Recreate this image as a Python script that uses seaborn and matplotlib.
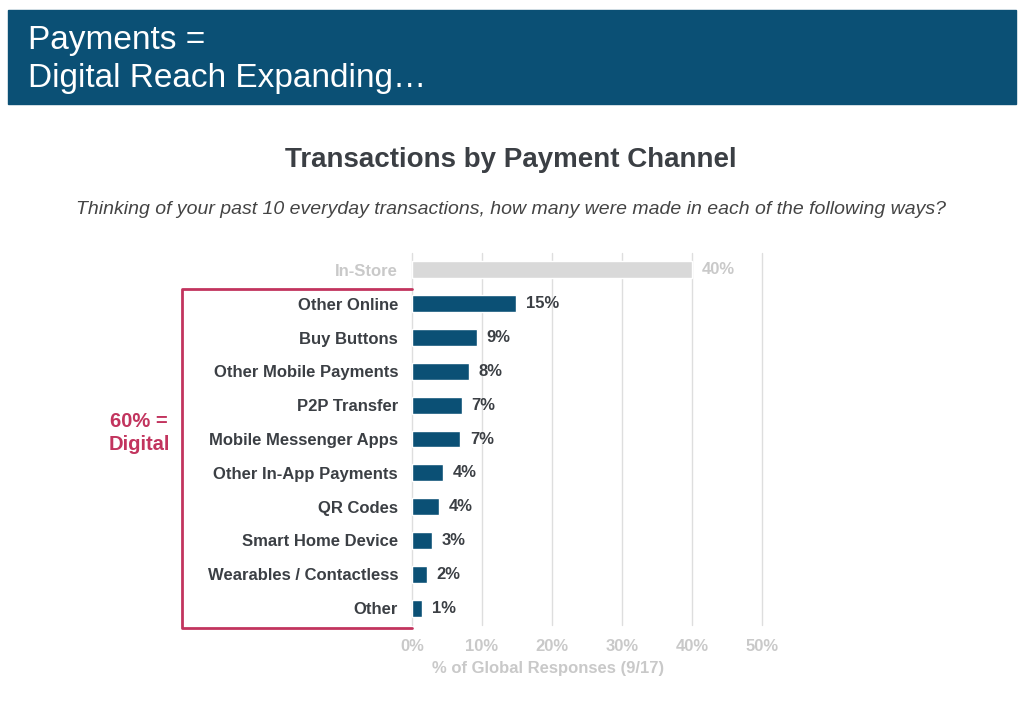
import matplotlib
matplotlib.use("Agg")
import matplotlib.pyplot as plt
import seaborn as sns
import pandas as pd
from matplotlib.lines import Line2D
from matplotlib.patches import Rectangle

## Data
channels = ["In-Store", "Other Online", "Buy Buttons", "Other Mobile Payments",
            "P2P Transfer", "Mobile Messenger Apps", "Other In-App Payments",
            "QR Codes", "Smart Home Device", "Wearables / Contactless", "Other"]
shares = [40.0, 14.9, 9.3, 8.1, 7.1, 6.9, 4.4, 3.9, 2.9, 2.1, 1.4]
groups = ["Physical"] + ["Digital"] * 10
x_ticks = [0, 10, 20, 30, 40, 50]

df = pd.DataFrame({"channel": channels, "share": shares, "group": groups})

navy = "#0b5075"
dark = "#3b3f44"
light = "#c9c9c9"
pink = "#c2345e"

sns.set_theme(style="white")
plt.rcParams["font.family"] = ["Liberation Sans", "DejaVu Sans"]

fig = plt.figure(figsize=(10.24, 7.04), dpi=100)
W, H = 1024, 704

## Header banner
fig.add_artist(Rectangle((8 / W, 1 - 104 / H), 1008 / W, 94 / H,
                         transform=fig.transFigure, color=navy, zorder=0))
fig.text(28 / W, 1 - 40 / H, "Payments =", color="white", fontsize=24, va="center")
fig.text(28 / W, 1 - 78 / H, "Digital Reach Expanding\u2026", color="white",
         fontsize=24, va="center")

## Titles
fig.text(511 / W, 1 - 160 / H, "Transactions by Payment Channel", color=dark,
         fontsize=20, fontweight="bold", ha="center", va="center")
fig.text(511 / W, 1 - 210 / H,
         "Thinking of your past 10 everyday transactions, how many were made in each of the following ways?",
         color="#444444", fontsize=14, style="italic", ha="center", va="center")

## Bar chart
ax = fig.add_axes([412 / W, 79 / H, 350 / W, 372 / H])
sns.barplot(data=df, x="share", y="channel", hue="group", orient="h",
            palette={"Physical": "#d9d9d9", "Digital": navy}, saturation=1,
            width=0.5, dodge=False, legend=False, ax=ax, zorder=3)

for cont in ax.containers:
    labels = [f"{round(v)}%" for v in cont.datavalues]
    is_phys = len(cont.datavalues) and cont.datavalues[0] == shares[0]
    ax.bar_label(cont, labels=labels, padding=7, fontsize=12, fontweight="bold",
                 color=light if is_phys else dark)

ax.set_xlim(0, 50)
ax.set_xticks(x_ticks)
ax.set_xticklabels([f"{t}%" for t in x_ticks], color=light, fontsize=12,
                   fontweight="bold")
ax.tick_params(axis="x", length=0, pad=10)
ax.tick_params(axis="y", length=0, pad=10)
ax.grid(axis="x", color="#dedede", linewidth=1, zorder=0)
for gl in ax.get_xgridlines():
    gl.set_clip_on(False)
for s in ax.spines.values():
    s.set_visible(False)
ax.set_ylabel("")
ax.set_xlabel("% of Global Responses (9/17)", color=light, fontsize=12,
              fontweight="bold")
ax.xaxis.set_label_coords(0.39, -36 / 372, transform=ax.transAxes)
for lab in ax.get_yticklabels():
    lab.set_fontweight("bold")
    lab.set_fontsize(12)
    lab.set_color(light if lab.get_text() == "In-Store" else dark)

## Digital bracket
bx0, bx1, by0, by1 = 182 / W, 412 / W, 1 - 289 / H, 1 - 628 / H
fig.add_artist(Line2D([bx1, bx0, bx0, bx1], [by0, by0, by1, by1],
                      transform=fig.transFigure, color=pink, linewidth=2,
                      solid_joinstyle="round"))
fig.text(139 / W, 1 - 433 / H, "60% =\nDigital", color=pink, fontsize=14.5,
         fontweight="bold", ha="center", va="center", linespacing=1.3)

fig.savefig("out.png", dpi=100)
